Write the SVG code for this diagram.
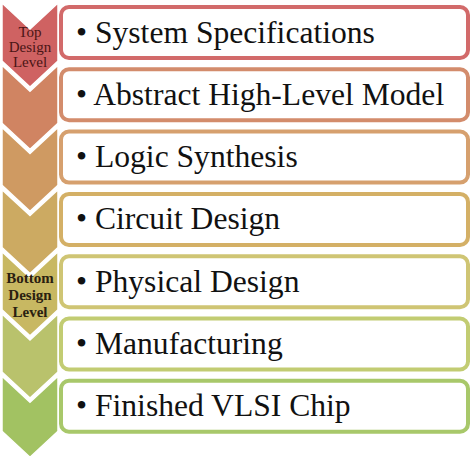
<svg xmlns="http://www.w3.org/2000/svg" width="474" height="462" viewBox="0 0 474 462">
<style>
.box{fill:#ffffff;stroke-width:4}
.chev{stroke:#ffffff;stroke-width:1.5}
.t{font-family:"Liberation Serif","Times New Roman",serif;font-size:31.6px;fill:#111111}
.lvl{font-family:"Liberation Serif","Times New Roman",serif;font-size:15px;text-anchor:middle}
</style>
<rect width="474" height="462" fill="#ffffff"/>
<g id="n1">
<rect class="box" x="61" y="7" width="407" height="51" rx="8" stroke="#D26A6A"/>
<polygon class="chev" fill="#CF6262" points="2,3 30,29 58,3 58,61 30,87 2,61"/>
<text class="lvl" fill="#4a1515"><tspan x="30" y="37">Top</tspan><tspan x="30" y="52">Design</tspan><tspan x="30" y="67">Level</tspan></text>
<text class="t" x="76" y="42.5">• System Specifications</text>
</g>
<g id="n2">
<rect class="box" x="61" y="69.3" width="407" height="51" rx="8" stroke="#D38C6C"/>
<polygon class="chev" fill="#D08462" points="2,65.2 30,91.2 58,65.2 58,123.2 30,149.2 2,123.2"/>
<text class="t" x="76" y="104.8">• Abstract High-Level Model</text>
</g>
<g id="n3">
<rect class="box" x="61" y="131.6" width="407" height="51" rx="8" stroke="#D6A06E"/>
<polygon class="chev" fill="#CF9A62" points="2,127.4 30,153.4 58,127.4 58,185.4 30,211.4 2,185.4"/>
<text class="t" x="76" y="167.1">• Logic Synthesis</text>
</g>
<g id="n4">
<rect class="box" x="61" y="193.9" width="407" height="51" rx="8" stroke="#D4B066"/>
<polygon class="chev" fill="#CCAA62" points="2,189.6 30,215.6 58,189.6 58,247.6 30,273.6 2,247.6"/>
<text class="t" x="76" y="229.4">• Circuit Design</text>
</g>
<g id="n5">
<rect class="box" x="61" y="256.2" width="407" height="51" rx="8" stroke="#CFC574"/>
<polygon class="chev" fill="#C8B862" points="2,251.8 30,277.8 58,251.8 58,309.8 30,335.8 2,309.8"/>
<text class="lvl" fill="#2a2010" font-weight="bold"><tspan x="30" y="283">Bottom</tspan><tspan x="30" y="300">Design</tspan><tspan x="30" y="317">Level</tspan></text>
<text class="t" x="76" y="291.7">• Physical Design</text>
</g>
<g id="n6">
<rect class="box" x="61" y="318.5" width="407" height="51" rx="8" stroke="#C2CC72"/>
<polygon class="chev" fill="#B9C26C" points="2,314 30,340 58,314 58,372 30,398 2,372"/>
<text class="t" x="76" y="354">• Manufacturing</text>
</g>
<g id="n7">
<rect class="box" x="61" y="380.8" width="407" height="51" rx="8" stroke="#A8C86A"/>
<polygon class="chev" fill="#A2C262" points="2,376.2 30,402.2 58,376.2 58,431.2 30,457.2 2,431.2"/>
<text class="t" x="76" y="416.3">• Finished VLSI Chip</text>
</g>
</svg>
